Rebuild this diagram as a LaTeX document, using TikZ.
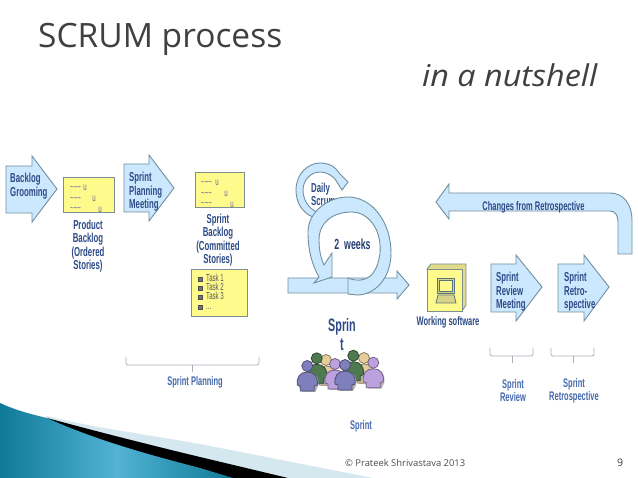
\documentclass[tikz,border=0pt]{standalone}
\usepackage{fontspec}
\setmainfont{Liberation Sans}
\newfontfamily\nar[FakeStretch=0.6]{Liberation Sans}
\newfontfamily\titlefont{Open Sans}
\newfontfamily\subtitlefont[FakeStretch=1.08]{Open Sans}
\definecolor{arrowfill}{HTML}{CCE8FF}
\definecolor{arrowline}{HTML}{6F8F9F}
\definecolor{stickyfill}{HTML}{FFFA8C}
\definecolor{stickyline}{HTML}{7F8F90}
\definecolor{labelblue}{HTML}{2C4A86}
\definecolor{softblue}{HTML}{4468AE}
\definecolor{bracketgrey}{HTML}{A8B0C0}
\definecolor{titlegrey}{HTML}{404040}
\definecolor{tealdark}{HTML}{0F7A98}
\definecolor{teallight}{HTML}{52B3D3}
\definecolor{palewave}{HTML}{D5E8F0}
\definecolor{pgreen}{HTML}{4F7A4F}
\definecolor{ptan}{HTML}{E6CC9A}
\definecolor{plilac}{HTML}{BDA0DE}
\definecolor{pslate}{HTML}{7F7FBE}
\tikzset{
  flowarrow/.style={draw=arrowline,fill=arrowfill,line width=0.9pt,line join=miter},
  stickybox/.style={draw=stickyline,fill=stickyfill,line width=1pt},
  lab/.style={inner sep=0pt,text=labelblue,align=center,font=\nar\bfseries\fontsize{13}{13.4}\selectfont},
  lableft/.style={lab,align=left,anchor=west},
  softlab/.style={lab,text=softblue,font=\nar\bfseries\fontsize{12.5}{13.2}\selectfont},
  tilde/.style={inner sep=0pt,text=gray!80!blue,font=\nar\fontsize{10.2}{10}\selectfont},
  tasklab/.style={inner sep=0pt,anchor=west,text=black!65,text height=6pt,text depth=1pt,font=\nar\fontsize{10.2}{10}\selectfont},
  taskbox/.style={draw=black!70,fill=black!55,line width=0.6pt,minimum size=4pt,inner sep=0pt},
  bracket/.style={draw=bracketgrey,line width=0.9pt,rounded corners=1.5pt},
  pcline/.style={draw=arrowline!80!black,line width=0.8pt,line join=round}
}
\newcommand{\crowdperson}[3]{%
  \begin{scope}[shift={(#1,#2)}]
    \fill[black!30] (-9,20) .. controls (-11,11) and (-7,7) .. (1,7) .. controls (9,7) and (12,11) .. (11,20) -- (8,26) -- (-5,26) -- cycle;
    \path[fill=#3,draw=#3!60!black,line width=0.8pt] (-10,19) .. controls (-11,11) and (-7,6) .. (0,6) .. controls (7,6) and (11,11) .. (10,19) -- (7,20) -- (7,25) -- (-7,25) -- (-7,20) -- cycle;
    \path[fill=#3,draw=#3!60!black,line width=0.8pt] (0,0) circle (5.5);
  \end{scope}}
\begin{document}
\begin{tikzpicture}[x=1pt,y=-1pt]
\useasboundingbox (0,0) rectangle (638,478);
\fill[white] (0,0) rectangle (638,478);
% corner swoosh
\fill[palewave] (47,416) .. controls (95,428) and (150,435) .. (200,444) -- (373,478) -- (0,478) -- cycle;
\fill[black] (47,418) .. controls (95,431) and (150,445) .. (200,457) -- (288,478) -- (100,478) -- cycle;
\shade[left color=tealdark,right color=tealdark,middle color=teallight] (0,403) .. controls (15,410) and (30,414) .. (47,418) .. controls (95,440) and (150,455) .. (200,468) -- (233,478) -- (0,478) -- cycle;
% title
\node[inner sep=0pt,anchor=base west,text=titlegrey,font=\titlefont\fontsize{33.5}{38}\selectfont] (title) at (38,48) {SCRUM process};
\node[inner sep=0pt,anchor=base west,text=titlegrey,font=\subtitlefont\itshape\fontsize{30}{34}\selectfont] (subtitle) at (422,87) {in a nutshell};
% left arrows
\path[flowarrow] (6,166) -- (32,166) -- (32,156) -- (57,189) -- (32,222) -- (32,213) -- (6,213) -- cycle;
\node[lableft] (grooming) at (10,186) {Backlog\\Grooming};
\node[stickybox,minimum width=51pt,minimum height=35pt,inner sep=0pt] (product) at (88.5,195.5) {};
\node[tilde,anchor=west] (pt1) at (70,188) {\textasciitilde\textasciitilde\textasciitilde};
\node[tilde] (pu1) at (85,188) {u};
\node[tilde,anchor=west] (pt2) at (70,199) {\textasciitilde\textasciitilde\textasciitilde};
\node[tilde] (pu2) at (94,199) {u};
\node[tilde,anchor=west] (pt3) at (70,209) {\textasciitilde\textasciitilde\textasciitilde};
\node[tilde] (pu3) at (100,209.5) {u};
\node[lab] (productlab) at (88,246) {Product\\Backlog\\(Ordered\\Stories)};
\path[flowarrow] (124,164) -- (149,164) -- (149,155) -- (174,188) -- (149,221) -- (149,212) -- (124,212) -- cycle;
\node[lableft] (planning) at (129,192) {Sprint\\Planning\\Meeting};
\node[stickybox,minimum width=49pt,minimum height=35pt,inner sep=0pt] (sprintbl) at (219.5,190.5) {};
\node[tilde,anchor=west] (st1) at (201,183) {\textasciitilde\textasciitilde\textasciitilde};
\node[tilde] (su1) at (217,183) {u};
\node[tilde,anchor=west] (st2) at (201,194) {\textasciitilde\textasciitilde\textasciitilde};
\node[tilde] (su2) at (226,194) {u};
\node[tilde,anchor=west] (st3) at (201,204) {\textasciitilde\textasciitilde\textasciitilde};
\node[tilde] (su3) at (232,204.5) {u};
\node[lab] (sprintlab) at (218,240) {Sprint\\Backlog\\(Committed\\Stories)};
% task card
\node[stickybox,minimum width=56pt,minimum height=47pt,inner sep=0pt] (tasks) at (219,293.5) {};
\node[taskbox] (c1) at (200,279) {};
\node[taskbox] (c2) at (200,288) {};
\node[taskbox] (c3) at (200,297) {};
\node[taskbox] (c4) at (200,307) {};
\node[tasklab] (t1) at (206,279) {Task 1};
\node[tasklab] (t2) at (206,288) {Task 2};
\node[tasklab] (t3) at (206,297) {Task 3};
\node[tasklab] (t4) at (206,307) {...};
% sprint cycle
\node[lableft] (daily) at (311,194.5) {Daily\\Scrum};
\path[flowarrow] (313,217) .. controls (302,213) and (296,202) .. (296,190) .. controls (296,174) and (308,163) .. (320,163) .. controls (329,163) and (336,167) .. (339,173) -- (348,182) -- (342,190) -- (335,179) -- (333,177) .. controls (329,174) and (325,172) .. (320,172) .. controls (311,172) and (303,180) .. (303,190) .. controls (303,200) and (309,209) .. (317,212) -- cycle;
\path[flowarrow] (288,278) -- (397,278) -- (397,271) -- (409,285) -- (397,299) -- (397,293) -- (288,293) -- cycle;
\path[flowarrow] (348,278) .. controls (355,281) and (376,286) .. (380,253) .. controls (382,228) and (367,212) .. (352,212) .. controls (333,212) and (319,222) .. (319,240) .. controls (319,250) and (321,259) .. (324,265) -- (332,253) -- (332,277) -- (314,283) -- (319,277) .. controls (312,265) and (308,250) .. (308,232) .. controls (308,212) and (328,197) .. (348,197) .. controls (372,197) and (391,222) .. (391,253) .. controls (391,278) and (375,295) .. (357,295) -- (348,294) -- cycle;
\node[lab,text=labelblue!85!black,font=\nar\bfseries\fontsize{14.7}{15}\selectfont] (weeks) at (352.5,244) {2\ \ weeks};
\node[lab,font=\nar\bfseries\fontsize{18}{19}\selectfont] (sprintbig) at (342,334.5) {Sprin\\t};
% people
\crowdperson{326}{360}{ptan}
\crowdperson{364}{358}{ptan}
\crowdperson{316.7}{358.3}{pgreen}
\crowdperson{353.3}{355.7}{pgreen}
\crowdperson{335}{364}{plilac}
\crowdperson{373.3}{362.7}{plilac}
\crowdperson{307.3}{366}{pslate}
\crowdperson{345}{365}{pslate}
\node[softlab] (sprintbottom) at (361,426) {Sprint};
% computer
\path[stickybox,line width=0.9pt,fill=stickyfill!75!gray] (427,269) -- (431,264) -- (466,264) -- (466,305) -- (462,311) -- cycle;
\node[stickybox,line width=0.9pt,minimum width=35pt,minimum height=42pt,inner sep=0pt] (computer) at (444.5,290) {};
\path[pcline,fill=stickyfill!70!gray] (437,278) rectangle (454,293);
\path[pcline,fill=stickyfill] (439,280) rectangle (452,291);
\path[pcline,fill=stickyfill!70!gray] (438,295) -- (454,295) -- (456,303) -- (436,303) -- cycle;
\node[lab,font=\nar\bfseries\fontsize{12.5}{13}\selectfont] (working) at (448,322) {Working software};
% feedback arrow
\path[flowarrow] (436,202) -- (449,184) -- (449,193) -- (610,193) .. controls (624,193) and (632,205) .. (632,220) -- (632,254) -- (618,254) -- (618,222) .. controls (618,215) and (615,211) .. (610,211) -- (449,211) -- (449,219) -- cycle;
\node[lab,font=\nar\bfseries\fontsize{12.5}{13}\selectfont] (changes) at (533.5,207) {Changes from Retrospective};
% right arrows
\path[flowarrow] (491,264) -- (516,264) -- (516,255) -- (542,287) -- (516,321) -- (516,312) -- (491,312) -- cycle;
\node[lableft] (review) at (496,292) {Sprint\\Review\\Meeting};
\path[flowarrow] (558,264) -- (584,264) -- (584,255) -- (609,287) -- (584,321) -- (584,312) -- (558,312) -- cycle;
\node[lableft] (retro) at (564,292) {Sprint\\Retro-\\spective};
% brackets
\draw[bracket] (126,357) -- (126,365) -- (259,365) -- (259,357);
\coordinate (planA) at (192,365);
\coordinate (planB) at (192,372);
\draw[bracket] (planA) -- (planB);
\node[softlab] (planninglab) at (195,382) {Sprint Planning};
\draw[bracket] (490,348) -- (490,356) -- (533,356) -- (533,348);
\coordinate (revA) at (512,356);
\coordinate (revB) at (512,363);
\draw[bracket] (revA) -- (revB);
\node[softlab] (reviewlab) at (513,390.5) {Sprint\\Review};
\draw[bracket] (551,348) -- (551,356) -- (594,356) -- (594,348);
\coordinate (retA) at (573,356);
\coordinate (retB) at (573,363);
\draw[bracket] (retA) -- (retB);
\node[softlab] (retrolab) at (574,390.5) {Sprint\\Retrospective};
% footer
\node[inner sep=0pt,anchor=west,text=black!70,font=\titlefont\fontsize{9.4}{12}\selectfont] (footer) at (345,463) {© Prateek Shrivastava 2013};
\node[inner sep=0pt,text=black!75,font=\titlefont\fontsize{10.5}{12}\selectfont] (pageno) at (620,463) {9};
\end{tikzpicture}
\end{document}
